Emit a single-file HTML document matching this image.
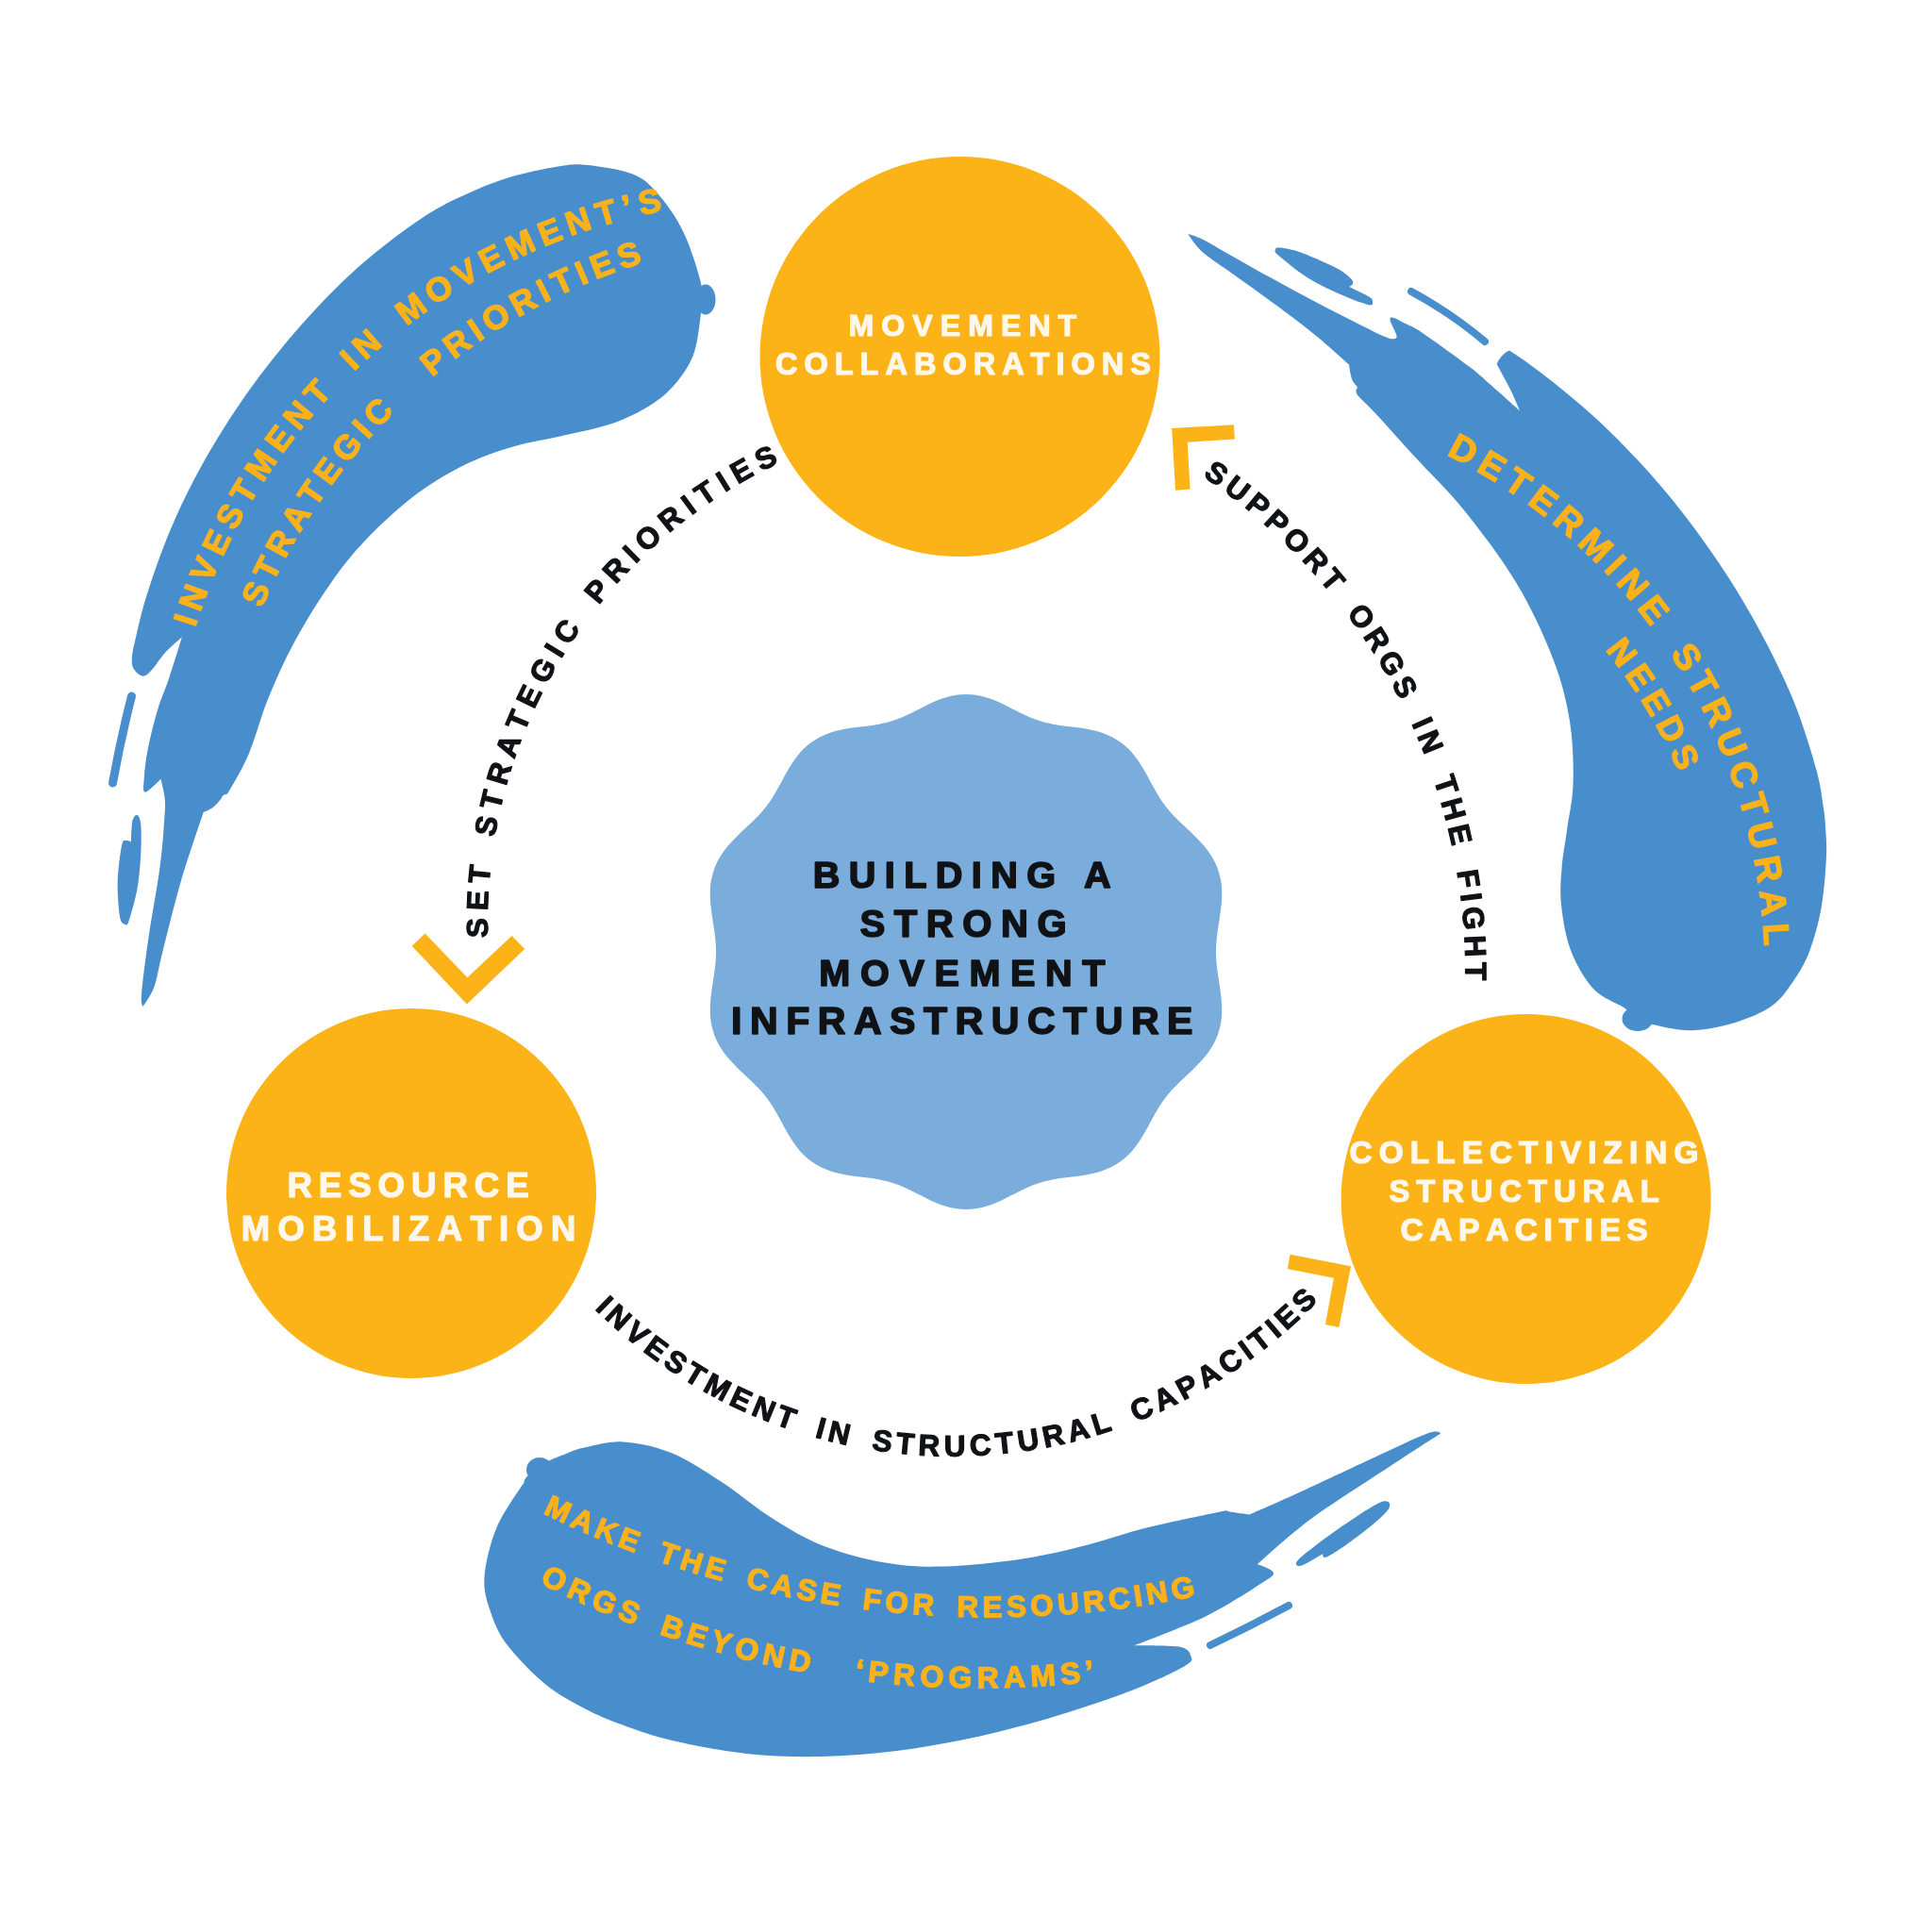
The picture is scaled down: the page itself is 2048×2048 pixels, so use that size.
<!DOCTYPE html>
<html><head><meta charset="utf-8"><style>
html,body{margin:0;padding:0;background:#fff;width:2048px;height:2048px;overflow:hidden}
svg{display:block;will-change:transform}
text{font-family:"Liberation Sans",sans-serif;font-weight:bold}
</style></head><body>
<svg xmlns="http://www.w3.org/2000/svg" width="2048" height="2048" viewBox="0 0 2048 2048">
<rect width="2048" height="2048" fill="#ffffff"/>
<path fill="#488ecc" d="M623.0,175.0 C636.3,176.4 658.8,179.8 671.2,184.8 C683.6,189.9 688.4,195.2 697.2,205.3 C706.1,215.3 716.6,229.7 724.1,245.2 C731.7,260.7 739.5,286.3 742.6,298.4 C745.7,310.5 743.0,311.8 743.0,318.0 C743.0,324.2 744.0,325.6 742.6,335.5 C741.2,345.4 739.5,364.8 734.6,377.2 C729.6,389.6 721.5,400.7 713.1,409.9 C704.8,419.1 695.9,425.7 684.5,432.4 C673.1,439.2 660.2,445.2 644.7,450.3 C629.2,455.3 608.0,459.2 591.6,462.9 C575.2,466.7 562.2,468.1 546.5,472.7 C530.8,477.3 514.2,482.5 497.3,490.6 C480.3,498.7 462.3,508.6 444.6,521.6 C427.0,534.5 407.0,552.5 391.5,568.3 C376.0,584.2 364.9,598.0 351.8,616.5 C338.7,635.0 324.0,658.7 312.8,679.3 C301.6,699.9 292.7,720.0 284.4,740.1 C276.2,760.2 270.6,783.1 263.4,800.0 C256.2,816.9 241.0,841.7 241.0,841.7 C241.0,841.7 238.0,842.0 236.6,843.2 C235.2,844.4 234.4,846.9 232.5,849.1 C230.6,851.3 228.1,854.3 225.3,856.3 C222.5,858.3 215.7,861.1 215.7,861.1 C215.7,861.1 199.0,909.6 191.8,934.2 C184.6,958.8 177.1,990.1 172.4,1008.7 C167.7,1027.3 167.0,1036.3 163.5,1046.0 C160.0,1055.7 151.6,1066.9 151.6,1066.9 C151.6,1066.9 149.0,1065.7 150.0,1053.5 C151.0,1041.3 154.2,1016.2 157.5,993.8 C160.7,971.4 166.7,940.6 169.5,919.3 C172.4,897.9 173.6,878.0 174.4,865.6 C175.3,853.3 175.2,851.5 174.5,844.9 C173.8,838.3 170.4,825.8 170.4,825.8 C170.4,825.8 156.7,840.1 153.8,839.8 C150.9,839.5 152.3,832.0 152.8,824.2 C153.3,816.4 154.5,805.3 156.9,793.2 C159.3,781.1 163.5,764.3 167.3,751.8 C171.1,739.3 175.2,730.7 179.5,718.0 C183.8,705.3 192.8,675.6 192.8,675.6 C192.8,675.6 180.3,686.3 175.0,692.0 C169.7,697.7 164.9,705.9 161.0,710.0 C157.1,714.1 154.8,716.7 151.7,716.7 C148.6,716.7 144.4,712.9 142.4,710.0 C140.4,707.1 139.7,704.5 139.8,699.5 C139.9,694.5 140.3,691.5 143.0,680.0 C145.7,668.5 149.4,650.3 155.7,630.5 C162.0,610.6 171.0,584.3 180.9,561.0 C190.8,537.7 201.5,515.2 215.3,490.8 C229.1,466.3 246.3,438.8 263.7,414.3 C281.2,389.9 300.4,366.0 319.7,344.1 C339.0,322.3 359.4,301.4 379.6,283.3 C399.8,265.2 423.2,247.9 440.9,235.6 C458.6,223.3 469.8,217.4 486.1,209.6 C502.3,201.8 520.8,194.1 538.3,188.6 C555.9,183.1 577.4,178.8 591.5,176.5 C605.6,174.2 609.7,173.6 623.0,175.0Z"/>
<path fill="#488ecc" d="M145.6,864.1 C147.1,864.9 148.7,867.8 149.3,874.5 C149.9,881.2 149.9,893.2 149.3,904.4 C148.7,915.6 147.7,929.7 145.6,941.6 C143.5,953.5 138.9,969.5 136.7,975.9 C134.5,982.2 133.8,980.4 132.2,979.7 C130.6,979.0 128.2,979.1 127.0,971.5 C125.8,963.9 124.3,946.9 124.7,934.2 C125.1,921.5 127.6,902.6 129.2,895.4 C130.8,888.2 132.8,891.5 134.4,891.0 C136.0,890.5 138.9,892.4 138.9,892.4 C138.9,892.4 139.3,874.7 140.4,870.0 C141.5,865.3 144.1,863.4 145.6,864.1Z"/>
<ellipse cx="748" cy="317.5" rx="10.5" ry="16" fill="#488ecc"/>
<ellipse cx="572" cy="1558" rx="14" ry="13" fill="#488ecc"/>
<ellipse cx="1736" cy="1080" rx="16.5" ry="13" fill="#488ecc"/>
<path fill="none" stroke="#488ecc" stroke-width="9" stroke-linecap="round" d="M139.5,738 Q128,783 119.5,830"/>
<path fill="#488ecc" d="M1259.3,248.1 C1259.3,248.1 1268.0,250.4 1274.8,253.7 C1281.6,257.0 1291.7,263.3 1300.0,268.1 C1308.3,272.8 1316.4,277.3 1324.6,281.9 C1332.8,286.5 1341.0,291.1 1349.2,295.6 C1357.4,300.1 1365.5,304.5 1373.8,309.0 C1382.2,313.4 1390.8,318.1 1399.2,322.5 C1407.6,326.9 1415.8,331.1 1424.1,335.3 C1432.4,339.6 1441.7,344.2 1448.9,347.8 C1456.2,351.4 1462.7,354.9 1467.4,356.8 C1472.1,358.7 1475.1,359.5 1477.3,359.3 C1479.5,359.1 1481.0,358.8 1480.4,355.5 C1479.8,352.2 1474.1,342.5 1473.6,339.4 C1473.1,336.3 1474.6,336.3 1477.3,336.9 C1480.0,337.5 1484.8,340.4 1490.0,343.1 C1495.2,345.8 1497.0,345.6 1508.3,353.2 C1519.6,360.8 1546.0,379.9 1558.0,389.0 C1570.0,398.1 1571.2,400.1 1580.0,407.8 C1588.8,415.5 1611.0,435.4 1611.0,435.4 C1611.0,435.4 1605.1,421.2 1601.5,413.8 C1597.9,406.4 1591.8,395.9 1589.4,391.0 C1587.1,386.1 1586.1,387.2 1587.4,384.2 C1588.8,381.2 1594.2,374.1 1597.5,372.8 C1600.8,371.5 1598.7,370.7 1606.9,376.1 C1615.1,381.5 1633.3,394.8 1646.6,405.3 C1659.9,415.8 1674.3,428.0 1686.7,439.1 C1699.0,450.2 1708.9,459.6 1720.7,471.7 C1732.5,483.8 1745.2,497.3 1757.6,511.8 C1770.0,526.3 1783.1,542.3 1795.2,558.7 C1807.4,575.0 1820.5,594.1 1830.7,609.8 C1840.9,625.4 1848.1,637.8 1856.6,652.6 C1865.0,667.5 1873.1,682.6 1881.2,699.1 C1889.2,715.6 1897.3,732.1 1904.7,751.7 C1912.2,771.3 1920.9,799.3 1925.6,816.8 C1930.3,834.3 1931.4,846.0 1933.0,856.6 C1934.6,867.1 1934.8,871.4 1935.3,880.2 C1935.8,889.0 1936.7,895.8 1935.9,909.5 C1935.2,923.2 1933.6,945.9 1930.6,962.4 C1927.6,979.0 1922.8,996.0 1918.0,1008.7 C1913.2,1021.4 1908.6,1028.9 1902.0,1038.5 C1895.4,1048.1 1888.9,1058.7 1878.3,1066.3 C1867.7,1073.9 1852.8,1079.9 1838.5,1084.2 C1824.2,1088.5 1807.0,1091.9 1792.8,1092.2 C1778.5,1092.5 1762.5,1088.2 1753.0,1086.2 C1743.5,1084.2 1741.3,1083.0 1736.0,1080.0 C1730.7,1077.0 1729.0,1073.2 1721.2,1068.0 C1713.4,1062.8 1698.7,1058.5 1689.4,1048.5 C1680.1,1038.5 1671.1,1023.1 1665.4,1008.2 C1659.6,993.3 1656.6,974.1 1655.0,959.3 C1653.4,944.5 1654.6,932.8 1655.6,919.5 C1656.6,906.2 1659.1,894.4 1661.1,879.5 C1663.1,864.6 1667.1,849.3 1667.6,830.1 C1668.1,810.9 1667.5,786.5 1664.0,764.5 C1660.4,742.6 1655.8,722.9 1646.3,698.4 C1636.9,673.9 1623.2,644.1 1607.3,617.7 C1591.5,591.3 1568.8,561.9 1551.0,539.8 C1533.3,517.8 1516.4,502.4 1501.0,485.5 C1485.6,468.6 1468.8,449.6 1458.6,438.7 C1448.4,427.8 1443.5,424.1 1440.0,420.0 C1436.5,415.9 1437.8,415.5 1437.6,413.9 C1437.4,412.3 1439.4,411.8 1438.8,410.2 C1438.2,408.6 1435.1,406.5 1433.9,404.0 C1432.7,401.5 1432.0,398.2 1431.4,395.3 C1430.8,392.4 1430.1,386.6 1430.1,386.6 C1430.1,386.6 1408.4,367.2 1399.1,359.3 C1389.8,351.4 1384.5,347.3 1374.2,339.4 C1363.8,331.5 1348.4,320.2 1337.0,312.0 C1325.7,303.7 1316.2,297.2 1305.9,289.7 C1295.5,282.3 1282.6,274.2 1274.8,267.3 C1267.0,260.4 1259.3,248.1 1259.3,248.1Z"/>
<path fill="#488ecc" d="M1351.9,264.8 C1352.0,263.4 1352.3,262.3 1356.0,262.5 C1359.7,262.7 1367.0,263.9 1374.2,266.1 C1381.4,268.4 1391.5,272.7 1399.1,276.0 C1406.7,279.3 1414.4,282.7 1420.0,286.0 C1425.6,289.3 1430.3,293.4 1432.6,295.9 C1434.9,298.4 1434.3,299.5 1433.9,300.9 C1433.5,302.2 1430.1,304.0 1430.1,304.0 C1430.1,304.0 1447.0,311.9 1451.2,314.5 C1455.4,317.1 1455.0,318.1 1455.0,319.5 C1455.0,320.9 1456.4,324.2 1451.2,323.2 C1446.0,322.2 1434.7,318.1 1423.9,313.3 C1413.1,308.6 1398.0,301.7 1386.6,294.7 C1375.2,287.7 1361.4,276.1 1355.6,271.1 C1349.8,266.1 1351.8,266.2 1351.9,264.8Z"/>
<path fill="none" stroke="#488ecc" stroke-width="8" stroke-linecap="round" d="M1496,309 Q1537,331 1574,362"/>
<path fill="#488ecc" d="M558.0,1566.0 C561.2,1562.7 568.0,1556.2 575.0,1552.0 C582.0,1547.8 592.6,1543.9 600.0,1541.0 C607.4,1538.1 609.2,1536.6 619.3,1534.5 C629.4,1532.4 645.1,1527.5 660.5,1528.4 C675.8,1529.3 694.2,1533.0 711.4,1540.0 C728.5,1546.9 745.5,1558.3 763.5,1570.0 C781.6,1581.7 801.5,1598.7 819.5,1610.1 C837.5,1621.5 852.1,1630.5 871.6,1638.2 C891.2,1645.9 915.5,1652.6 936.8,1656.3 C958.0,1660.0 974.6,1661.2 999.0,1660.6 C1023.5,1660.0 1057.7,1656.4 1083.5,1652.5 C1109.2,1648.6 1131.2,1642.9 1153.4,1637.4 C1175.5,1631.8 1192.0,1625.3 1216.4,1619.3 C1240.8,1613.3 1299.7,1601.3 1299.7,1601.3 C1299.7,1601.3 1301.1,1602.0 1305.2,1602.7 C1309.3,1603.4 1324.6,1605.4 1324.6,1605.4 C1324.6,1605.4 1352.4,1593.4 1374.6,1583.2 C1396.8,1573.0 1434.7,1555.0 1457.8,1544.4 C1480.9,1533.8 1501.7,1523.6 1513.3,1519.4 C1524.9,1515.2 1527.2,1519.4 1527.2,1519.4 C1527.2,1519.4 1494.8,1540.2 1471.7,1555.5 C1448.6,1570.8 1411.6,1593.9 1388.5,1611.0 C1365.4,1628.1 1333.0,1658.2 1333.0,1658.2 C1333.0,1658.2 1348.7,1663.3 1349.6,1666.5 C1350.5,1669.7 1350.5,1669.7 1338.5,1677.6 C1326.5,1685.5 1300.2,1702.6 1277.5,1713.7 C1254.8,1724.8 1202.5,1744.2 1202.5,1744.2 C1202.5,1744.2 1239.8,1743.8 1249.7,1745.6 C1259.7,1747.4 1261.3,1751.8 1262.2,1755.3 C1263.1,1758.8 1266.6,1759.9 1255.3,1766.4 C1244.0,1772.9 1218.2,1784.9 1194.2,1794.1 C1170.2,1803.3 1139.3,1813.3 1111.6,1821.4 C1083.8,1829.5 1054.5,1837.1 1027.7,1842.8 C1000.8,1848.6 976.6,1852.8 950.4,1856.0 C924.2,1859.2 897.1,1861.5 870.7,1862.0 C844.2,1862.5 817.8,1861.7 791.5,1858.9 C765.1,1856.0 734.5,1850.0 712.5,1844.9 C690.4,1839.8 674.8,1833.9 659.3,1828.2 C643.8,1822.6 632.9,1818.0 619.4,1810.9 C606.0,1803.8 592.0,1796.8 578.6,1785.8 C565.1,1774.8 548.3,1757.5 538.7,1745.1 C529.1,1732.8 525.3,1723.7 521.1,1711.7 C516.9,1699.7 512.6,1688.5 513.4,1673.1 C514.3,1657.7 519.5,1636.2 526.5,1619.3 C533.5,1602.4 555.7,1571.6 555.7,1571.6 C555.7,1571.6 554.8,1569.3 558.0,1566.0Z"/>
<path fill="#488ecc" d="M1466.1,1591.6 C1472.6,1589.8 1475.4,1594.4 1471.7,1599.9 C1468.0,1605.5 1454.6,1616.6 1444.0,1624.9 C1433.4,1633.2 1414.9,1646.1 1407.9,1649.8 C1401.0,1653.5 1402.3,1647.1 1402.3,1647.1 C1402.3,1647.1 1384.7,1658.1 1380.1,1659.5 C1375.5,1660.9 1372.3,1658.9 1374.6,1655.4 C1376.9,1651.9 1384.3,1646.1 1394.0,1638.7 C1403.7,1631.3 1420.9,1618.8 1432.9,1611.0 C1444.9,1603.2 1459.6,1593.4 1466.1,1591.6Z"/>
<path fill="none" stroke="#488ecc" stroke-width="8" stroke-linecap="round" d="M1366,1702 Q1325,1724 1283,1744"/>
<path fill="#7aaddb" d="M1024.0,736.0 L1028.3,736.2 L1032.6,736.6 L1036.8,737.2 L1041.0,738.1 L1045.2,739.3 L1049.4,740.6 L1053.5,742.1 L1057.5,743.8 L1061.5,745.6 L1065.4,747.5 L1069.3,749.4 L1073.1,751.4 L1077.0,753.3 L1080.7,755.2 L1084.5,757.0 L1088.2,758.8 L1092.0,760.4 L1095.8,761.9 L1099.6,763.3 L1103.4,764.6 L1107.3,765.7 L1111.3,766.6 L1115.3,767.5 L1119.3,768.2 L1123.5,768.9 L1127.7,769.4 L1131.9,770.0 L1136.2,770.5 L1140.6,771.0 L1144.9,771.6 L1149.3,772.3 L1153.7,773.1 L1158.1,774.0 L1162.4,775.0 L1166.6,776.3 L1170.8,777.7 L1174.8,779.4 L1178.8,781.3 L1182.6,783.4 L1186.2,785.7 L1189.8,788.2 L1193.1,791.0 L1196.3,794.0 L1199.3,797.1 L1202.1,800.5 L1204.8,803.9 L1207.3,807.5 L1209.7,811.2 L1212.0,815.0 L1214.2,818.8 L1216.3,822.6 L1218.4,826.4 L1220.4,830.2 L1222.5,834.0 L1224.6,837.7 L1226.7,841.3 L1228.8,844.9 L1231.1,848.4 L1233.5,851.7 L1235.9,855.0 L1238.5,858.2 L1241.2,861.4 L1244.0,864.5 L1247.0,867.5 L1250.0,870.5 L1253.1,873.5 L1256.3,876.5 L1259.5,879.5 L1262.8,882.6 L1266.0,885.7 L1269.2,888.9 L1272.3,892.2 L1275.3,895.5 L1278.2,899.0 L1280.9,902.6 L1283.4,906.3 L1285.7,910.1 L1287.8,914.0 L1289.7,918.0 L1291.2,922.2 L1292.5,926.4 L1293.6,930.7 L1294.4,935.0 L1294.9,939.4 L1295.2,943.9 L1295.2,948.4 L1295.1,952.9 L1294.8,957.3 L1294.4,961.8 L1293.8,966.3 L1293.2,970.7 L1292.6,975.1 L1291.9,979.4 L1291.2,983.7 L1290.6,988.0 L1290.1,992.3 L1289.6,996.5 L1289.3,1000.7 L1289.1,1004.8 L1289.0,1009.0 L1289.1,1013.2 L1289.3,1017.3 L1289.6,1021.5 L1290.1,1025.7 L1290.6,1030.0 L1291.2,1034.3 L1291.9,1038.6 L1292.6,1042.9 L1293.2,1047.3 L1293.8,1051.7 L1294.4,1056.2 L1294.8,1060.7 L1295.1,1065.1 L1295.2,1069.6 L1295.2,1074.1 L1294.9,1078.6 L1294.4,1083.0 L1293.6,1087.3 L1292.5,1091.6 L1291.2,1095.8 L1289.7,1100.0 L1287.8,1104.0 L1285.7,1107.9 L1283.4,1111.7 L1280.9,1115.4 L1278.2,1119.0 L1275.3,1122.5 L1272.3,1125.8 L1269.2,1129.1 L1266.0,1132.3 L1262.8,1135.4 L1259.5,1138.5 L1256.3,1141.5 L1253.1,1144.5 L1250.0,1147.5 L1247.0,1150.5 L1244.0,1153.5 L1241.2,1156.6 L1238.5,1159.8 L1235.9,1163.0 L1233.5,1166.3 L1231.1,1169.6 L1228.8,1173.1 L1226.7,1176.7 L1224.6,1180.3 L1222.5,1184.0 L1220.4,1187.8 L1218.4,1191.6 L1216.3,1195.4 L1214.2,1199.2 L1212.0,1203.0 L1209.7,1206.8 L1207.3,1210.5 L1204.8,1214.1 L1202.1,1217.5 L1199.3,1220.9 L1196.3,1224.0 L1193.1,1227.0 L1189.8,1229.8 L1186.2,1232.3 L1182.6,1234.6 L1178.8,1236.7 L1174.8,1238.6 L1170.8,1240.3 L1166.6,1241.7 L1162.4,1243.0 L1158.1,1244.0 L1153.7,1244.9 L1149.3,1245.7 L1144.9,1246.4 L1140.6,1247.0 L1136.2,1247.5 L1131.9,1248.0 L1127.7,1248.6 L1123.5,1249.1 L1119.3,1249.8 L1115.3,1250.5 L1111.3,1251.4 L1107.3,1252.3 L1103.4,1253.4 L1099.6,1254.7 L1095.8,1256.1 L1092.0,1257.6 L1088.2,1259.2 L1084.5,1261.0 L1080.7,1262.8 L1077.0,1264.7 L1073.1,1266.6 L1069.3,1268.6 L1065.4,1270.5 L1061.5,1272.4 L1057.5,1274.2 L1053.5,1275.9 L1049.4,1277.4 L1045.2,1278.7 L1041.0,1279.9 L1036.8,1280.8 L1032.6,1281.4 L1028.3,1281.8 L1024.0,1282.0 L1019.7,1281.8 L1015.4,1281.4 L1011.2,1280.8 L1007.0,1279.9 L1002.8,1278.7 L998.6,1277.4 L994.5,1275.9 L990.5,1274.2 L986.5,1272.4 L982.6,1270.5 L978.7,1268.6 L974.9,1266.6 L971.0,1264.7 L967.3,1262.8 L963.5,1261.0 L959.8,1259.2 L956.0,1257.6 L952.2,1256.1 L948.4,1254.7 L944.6,1253.4 L940.7,1252.3 L936.7,1251.4 L932.7,1250.5 L928.7,1249.8 L924.5,1249.1 L920.3,1248.6 L916.1,1248.0 L911.8,1247.5 L907.4,1247.0 L903.1,1246.4 L898.7,1245.7 L894.3,1244.9 L889.9,1244.0 L885.6,1243.0 L881.4,1241.7 L877.2,1240.3 L873.2,1238.6 L869.2,1236.7 L865.4,1234.6 L861.8,1232.3 L858.2,1229.8 L854.9,1227.0 L851.7,1224.0 L848.7,1220.9 L845.9,1217.5 L843.2,1214.1 L840.7,1210.5 L838.3,1206.8 L836.0,1203.0 L833.8,1199.2 L831.7,1195.4 L829.6,1191.6 L827.6,1187.8 L825.5,1184.0 L823.4,1180.3 L821.3,1176.7 L819.2,1173.1 L816.9,1169.6 L814.5,1166.3 L812.1,1163.0 L809.5,1159.8 L806.8,1156.6 L804.0,1153.5 L801.0,1150.5 L798.0,1147.5 L794.9,1144.5 L791.7,1141.5 L788.5,1138.5 L785.2,1135.4 L782.0,1132.3 L778.8,1129.1 L775.7,1125.8 L772.7,1122.5 L769.8,1119.0 L767.1,1115.4 L764.6,1111.7 L762.3,1107.9 L760.2,1104.0 L758.3,1100.0 L756.8,1095.8 L755.5,1091.6 L754.4,1087.3 L753.6,1083.0 L753.1,1078.6 L752.8,1074.1 L752.8,1069.6 L752.9,1065.1 L753.2,1060.7 L753.6,1056.2 L754.2,1051.7 L754.8,1047.3 L755.4,1042.9 L756.1,1038.6 L756.8,1034.3 L757.4,1030.0 L757.9,1025.7 L758.4,1021.5 L758.7,1017.3 L758.9,1013.2 L759.0,1009.0 L758.9,1004.8 L758.7,1000.7 L758.4,996.5 L757.9,992.3 L757.4,988.0 L756.8,983.7 L756.1,979.4 L755.4,975.1 L754.8,970.7 L754.2,966.3 L753.6,961.8 L753.2,957.3 L752.9,952.9 L752.8,948.4 L752.8,943.9 L753.1,939.4 L753.6,935.0 L754.4,930.7 L755.5,926.4 L756.8,922.2 L758.3,918.0 L760.2,914.0 L762.3,910.1 L764.6,906.3 L767.1,902.6 L769.8,899.0 L772.7,895.5 L775.7,892.2 L778.8,888.9 L782.0,885.7 L785.2,882.6 L788.5,879.5 L791.7,876.5 L794.9,873.5 L798.0,870.5 L801.0,867.5 L804.0,864.5 L806.8,861.4 L809.5,858.2 L812.1,855.0 L814.5,851.7 L816.9,848.4 L819.2,844.9 L821.3,841.3 L823.4,837.7 L825.5,834.0 L827.6,830.2 L829.6,826.4 L831.7,822.6 L833.8,818.8 L836.0,815.0 L838.3,811.2 L840.7,807.5 L843.2,803.9 L845.9,800.5 L848.7,797.1 L851.7,794.0 L854.9,791.0 L858.2,788.2 L861.8,785.7 L865.4,783.4 L869.2,781.3 L873.2,779.4 L877.2,777.7 L881.4,776.3 L885.6,775.0 L889.9,774.0 L894.3,773.1 L898.7,772.3 L903.1,771.6 L907.4,771.0 L911.8,770.5 L916.1,770.0 L920.3,769.4 L924.5,768.9 L928.7,768.2 L932.7,767.5 L936.7,766.6 L940.7,765.7 L944.6,764.6 L948.4,763.3 L952.2,761.9 L956.0,760.4 L959.8,758.8 L963.5,757.0 L967.3,755.2 L971.0,753.3 L974.9,751.4 L978.7,749.4 L982.6,747.5 L986.5,745.6 L990.5,743.8 L994.5,742.1 L998.6,740.6 L1002.8,739.3 L1007.0,738.1 L1011.2,737.2 L1015.4,736.6 L1019.7,736.2Z"/>
<circle cx="1017.5" cy="378" r="212" fill="#fcb318"/>
<circle cx="436" cy="1265" r="196" fill="#fcb318"/>
<circle cx="1617.6" cy="1271" r="196" fill="#fcb318"/>
<polygon fill="#fcb318" points="436.6,1002.7 450.6,989.5 495.4,1036.3 542.6,991.9 556.2,1006.0 494.9,1064.4"/>
<polygon fill="#fcb318" points="1242.2,454.1 1307.9,450.2 1308.9,465.5 1258.7,468.8 1261.6,518.5 1246.0,519.8"/>
<polygon fill="#fcb318" points="1367.6,1329.8 1432.0,1342.3 1419.4,1407.0 1404.9,1404.1 1413.9,1354.7 1364.8,1345.1"/>
<g fill="#fdf7ec" stroke="#fdf7ec" stroke-width="1.20" stroke-linejoin="round"><text x="899.5 934.2 967.3 996.7 1026.2 1060.9 1090.4 1121.6" y="356.0" font-size="32.12">MOVEMENT</text><text x="822.0 852.4 884.7 911.6 938.4 968.9 999.4 1031.7 1062.2 1092.6 1119.5 1135.5 1167.8 1198.3" y="397.3" font-size="32.56">COLLABORATIONS</text></g>
<g fill="#fdf7ec" stroke="#fdf7ec" stroke-width="1.20" stroke-linejoin="round"><text x="304.4 337.8 369.2 400.6 436.0 469.4 502.8 536.2" y="1268.7" font-size="36.77">RESOURCE</text><text x="255.8 294.4 331.1 365.7 384.2 414.7 433.1 463.7 498.4 528.9 547.3 584.0" y="1314.6" font-size="36.48">MOBILIZATION</text></g>
<g fill="#fdf7ec" stroke="#fdf7ec" stroke-width="1.20" stroke-linejoin="round"><text x="1430.6 1461.8 1494.8 1522.2 1549.7 1579.0 1610.1 1637.6 1653.9 1683.2 1699.5 1726.9 1743.2 1774.4" y="1233.3" font-size="33.43">COLLECTIVIZING</text><text x="1472.5 1501.3 1528.2 1558.8 1589.4 1620.0 1647.0 1677.6 1708.2 1738.8" y="1274.3" font-size="32.85">STRUCTURAL</text><text x="1484.4 1515.2 1546.1 1575.0 1605.8 1636.6 1652.5 1679.5 1695.4 1724.3" y="1315.3" font-size="33.72">CAPACITIES</text></g>
<g fill="#101215" stroke="#101215" stroke-width="1.60" stroke-linejoin="round"><text x="861.7 899.8 937.8 958.2 991.8 1029.8 1050.2 1088.3 1128.5 1148.9" y="941.3" font-size="39.68">BUILDING A</text><text x="911.5 947.8 981.8 1020.3 1061.0 1099.5" y="992.9" font-size="40.12">STRONG</text><text x="868.3 912.0 953.4 990.4 1027.4 1071.0 1108.1 1147.3" y="1044.8" font-size="39.68">MOVEMENT</text><text x="775.1 795.0 833.2 866.8 905.0 943.1 979.0 1012.6 1050.8 1089.0 1127.1 1160.7 1198.9 1237.1" y="1096.4" font-size="41.13">INFRASTRUCTURE</text></g>
<g fill="#101215" stroke="#101215" stroke-width="1.20" stroke-linejoin="round" font-size="31.54" text-anchor="middle"><text transform="translate(516.8,983.6) rotate(269.38)">S</text><text transform="translate(517.2,955.1) rotate(272.40)">E</text><text transform="translate(519.1,927.6) rotate(275.34)">T</text><text transform="translate(526.2,877.3) rotate(280.75)">S</text><text transform="translate(532.0,850.3) rotate(283.69)">T</text><text transform="translate(539.5,822.9) rotate(286.71)">R</text><text transform="translate(548.9,794.3) rotate(289.92)">A</text><text transform="translate(559.3,767.8) rotate(292.94)">T</text><text transform="translate(570.7,742.7) rotate(295.88)">E</text><text transform="translate(584.6,715.9) rotate(299.09)">G</text><text transform="translate(596.8,695.1) rotate(301.66)">I</text><text transform="translate(609.5,675.6) rotate(304.13)">C</text><text transform="translate(641.1,633.5) rotate(309.73)">P</text><text transform="translate(660.4,611.5) rotate(312.85)">R</text><text transform="translate(676.6,594.8) rotate(315.32)">I</text><text transform="translate(694.1,578.2) rotate(317.89)">O</text><text transform="translate(717.7,558.1) rotate(321.19)">R</text><text transform="translate(736.2,543.9) rotate(323.67)">I</text><text transform="translate(753.8,531.5) rotate(325.97)">T</text><text transform="translate(771.9,519.8) rotate(328.26)">I</text><text transform="translate(791.2,508.4) rotate(330.65)">E</text><text transform="translate(816.4,495.1) rotate(333.67)">S</text></g>
<g fill="#101215" stroke="#101215" stroke-width="1.20" stroke-linejoin="round" font-size="31.54" text-anchor="middle"><text transform="translate(1283.4,510.6) rotate(35.08)">S</text><text transform="translate(1305.4,526.7) rotate(37.55)">U</text><text transform="translate(1326.7,543.8) rotate(40.01)">P</text><text transform="translate(1346.6,561.3) rotate(42.40)">P</text><text transform="translate(1367.0,580.7) rotate(44.94)">O</text><text transform="translate(1387.1,601.7) rotate(47.56)">R</text><text transform="translate(1404.5,621.6) rotate(49.95)">T</text><text transform="translate(1434.3,659.9) rotate(54.33)">O</text><text transform="translate(1450.7,683.9) rotate(56.95)">R</text><text transform="translate(1466.0,708.6) rotate(59.57)">G</text><text transform="translate(1479.7,733.2) rotate(62.11)">S</text><text transform="translate(1498.0,770.7) rotate(65.88)">I</text><text transform="translate(1506.4,790.3) rotate(67.80)">N</text><text transform="translate(1522.7,835.1) rotate(72.10)">T</text><text transform="translate(1530.3,860.4) rotate(74.49)">H</text><text transform="translate(1537.1,886.9) rotate(76.95)">E</text><text transform="translate(1546.0,932.9) rotate(81.18)">F</text><text transform="translate(1548.7,952.3) rotate(82.95)">I</text><text transform="translate(1551.0,974.3) rotate(84.95)">G</text><text transform="translate(1552.9,1003.3) rotate(87.56)">H</text><text transform="translate(1553.5,1029.7) rotate(89.95)">T</text></g>
<g fill="#101215" stroke="#101215" stroke-width="1.20" stroke-linejoin="round" font-size="31.54" text-anchor="middle"><text transform="translate(633.4,1390.5) rotate(44.31)">I</text><text transform="translate(648.4,1404.5) rotate(42.12)">N</text><text transform="translate(668.7,1422.0) rotate(39.27)">V</text><text transform="translate(689.2,1437.9) rotate(36.51)">E</text><text transform="translate(710.4,1452.9) rotate(33.75)">S</text><text transform="translate(731.5,1466.3) rotate(31.09)">T</text><text transform="translate(755.6,1480.0) rotate(28.14)">M</text><text transform="translate(781.1,1492.8) rotate(25.10)">E</text><text transform="translate(805.7,1503.5) rotate(22.25)">N</text><text transform="translate(829.9,1512.8) rotate(19.49)">T</text><text transform="translate(867.4,1524.5) rotate(15.31)">I</text><text transform="translate(887.3,1529.5) rotate(13.12)">N</text><text transform="translate(933.8,1538.3) rotate(8.08)">S</text><text transform="translate(958.7,1541.2) rotate(5.42)">T</text><text transform="translate(984.5,1543.0) rotate(2.66)">R</text><text transform="translate(1012.2,1543.6) rotate(-0.29)">U</text><text transform="translate(1039.9,1542.7) rotate(-3.24)">C</text><text transform="translate(1065.7,1540.6) rotate(-6.00)">T</text><text transform="translate(1091.4,1537.3) rotate(-8.75)">U</text><text transform="translate(1118.7,1532.4) rotate(-11.70)">R</text><text transform="translate(1145.6,1526.1) rotate(-14.65)">A</text><text transform="translate(1170.5,1518.9) rotate(-17.41)">L</text><text transform="translate(1214.2,1503.2) rotate(-22.35)">C</text><text transform="translate(1239.5,1492.0) rotate(-25.30)">A</text><text transform="translate(1263.5,1479.9) rotate(-28.15)">P</text><text transform="translate(1286.8,1466.7) rotate(-31.01)">A</text><text transform="translate(1310.1,1451.8) rotate(-33.95)">C</text><text transform="translate(1327.0,1440.0) rotate(-36.14)">I</text><text transform="translate(1341.9,1428.7) rotate(-38.14)">T</text><text transform="translate(1356.5,1416.8) rotate(-40.13)">I</text><text transform="translate(1371.3,1403.9) rotate(-42.22)">E</text><text transform="translate(1390.0,1386.0) rotate(-44.98)">S</text></g>
<g fill="#fbb21a" stroke="#fbb21a" stroke-width="1.30" stroke-linejoin="round" font-size="35.61" text-anchor="middle"><text transform="translate(208.3,660.7) rotate(-71.99)">I</text><text transform="translate(216.4,637.4) rotate(-69.82)">N</text><text transform="translate(228.0,608.1) rotate(-67.04)">V</text><text transform="translate(240.6,580.2) rotate(-64.35)">E</text><text transform="translate(254.5,553.0) rotate(-61.65)">S</text><text transform="translate(269.1,527.3) rotate(-59.05)">T</text><text transform="translate(286.5,499.9) rotate(-56.19)">M</text><text transform="translate(305.8,472.5) rotate(-53.24)">E</text><text transform="translate(325.3,447.8) rotate(-50.46)">N</text><text transform="translate(345.3,424.7) rotate(-47.77)">T</text><text transform="translate(378.5,390.7) rotate(-43.59)">I</text><text transform="translate(396.7,374.0) rotate(-41.41)">N</text><text transform="translate(442.8,336.9) rotate(-36.20)">M</text><text transform="translate(471.9,316.8) rotate(-33.08)">O</text><text transform="translate(499.6,299.7) rotate(-30.22)">V</text><text transform="translate(526.3,285.0) rotate(-27.53)">E</text><text transform="translate(556.4,270.3) rotate(-24.58)">M</text><text transform="translate(587.2,257.2) rotate(-21.63)">E</text><text transform="translate(616.7,246.2) rotate(-18.86)">N</text><text transform="translate(645.9,237.1) rotate(-16.17)">T</text><text transform="translate(667.8,231.1) rotate(-14.16)">&#8217;</text><text transform="translate(691.0,225.7) rotate(-12.07)">S</text></g>
<g fill="#fbb21a" stroke="#fbb21a" stroke-width="1.30" stroke-linejoin="round" font-size="35.61" text-anchor="middle"><text transform="translate(282.2,634.1) rotate(-66.19)">S</text><text transform="translate(294.3,608.1) rotate(-63.64)">T</text><text transform="translate(308.1,581.8) rotate(-61.00)">R</text><text transform="translate(324.1,554.5) rotate(-58.19)">A</text><text transform="translate(340.4,529.7) rotate(-55.55)">T</text><text transform="translate(357.1,506.4) rotate(-52.99)">E</text><text transform="translate(376.8,481.6) rotate(-50.18)">G</text><text transform="translate(393.1,462.8) rotate(-47.97)">I</text><text transform="translate(409.4,445.4) rotate(-45.85)">C</text><text transform="translate(467.3,392.5) rotate(-38.88)">P</text><text transform="translate(491.6,373.9) rotate(-36.15)">R</text><text transform="translate(511.2,360.1) rotate(-34.03)">I</text><text transform="translate(532.0,346.6) rotate(-31.82)">O</text><text transform="translate(560.2,330.2) rotate(-28.92)">R</text><text transform="translate(581.3,319.0) rotate(-26.79)">I</text><text transform="translate(601.0,309.5) rotate(-24.85)">T</text><text transform="translate(621.0,300.6) rotate(-22.90)">I</text><text transform="translate(642.3,292.0) rotate(-20.86)">E</text><text transform="translate(670.3,282.1) rotate(-18.22)">S</text></g>
<g fill="#fbb21a" stroke="#fbb21a" stroke-width="1.30" stroke-linejoin="round" font-size="38.52" text-anchor="middle"><text transform="translate(1545.3,488.3) rotate(27.87)">D</text><text transform="translate(1575.1,505.1) rotate(31.07)">E</text><text transform="translate(1602.1,522.4) rotate(34.08)">T</text><text transform="translate(1628.2,541.1) rotate(37.09)">E</text><text transform="translate(1654.9,562.5) rotate(40.29)">R</text><text transform="translate(1682.6,587.5) rotate(43.79)">M</text><text transform="translate(1703.0,608.0) rotate(46.51)">I</text><text transform="translate(1721.1,627.9) rotate(49.03)">N</text><text transform="translate(1742.7,654.3) rotate(52.23)">E</text><text transform="translate(1777.1,703.4) rotate(57.86)">S</text><text transform="translate(1793.5,731.1) rotate(60.87)">T</text><text transform="translate(1808.8,760.4) rotate(63.97)">R</text><text transform="translate(1823.3,792.5) rotate(67.28)">U</text><text transform="translate(1836.0,825.4) rotate(70.58)">C</text><text transform="translate(1846.2,856.9) rotate(73.69)">T</text><text transform="translate(1854.6,888.9) rotate(76.79)">U</text><text transform="translate(1861.7,923.5) rotate(80.10)">R</text><text transform="translate(1866.7,958.3) rotate(83.40)">A</text><text transform="translate(1869.6,991.3) rotate(86.50)">L</text></g>
<g fill="#fbb21a" stroke="#fbb21a" stroke-width="1.30" stroke-linejoin="round" font-size="36.34" text-anchor="middle"><text transform="translate(1709.6,698.8) rotate(52.58)">N</text><text transform="translate(1728.3,724.7) rotate(55.83)">E</text><text transform="translate(1745.0,750.8) rotate(58.98)">E</text><text transform="translate(1760.7,778.7) rotate(62.23)">D</text><text transform="translate(1774.8,807.4) rotate(65.48)">S</text></g>
<g fill="#fbb21a" stroke="#fbb21a" stroke-width="1.30" stroke-linejoin="round" font-size="31.54" text-anchor="middle"><text transform="translate(587.0,1609.7) rotate(25.46)">M</text><text transform="translate(613.5,1621.8) rotate(23.91)">A</text><text transform="translate(638.7,1632.6) rotate(22.45)">K</text><text transform="translate(663.3,1642.4) rotate(21.04)">E</text><text transform="translate(705.7,1657.7) rotate(18.64)">T</text><text transform="translate(730.1,1665.6) rotate(17.27)">H</text><text transform="translate(755.5,1673.2) rotate(15.86)">E</text><text transform="translate(800.8,1685.0) rotate(13.36)">C</text><text transform="translate(827.5,1691.0) rotate(11.90)">A</text><text transform="translate(853.5,1696.1) rotate(10.49)">S</text><text transform="translate(878.8,1700.5) rotate(9.13)">E</text><text transform="translate(923.4,1706.7) rotate(6.73)">F</text><text transform="translate(949.8,1709.5) rotate(5.31)">O</text><text transform="translate(978.0,1711.7) rotate(3.81)">R</text><text transform="translate(1025.6,1713.9) rotate(1.26)">R</text><text transform="translate(1052.1,1714.1) rotate(-0.15)">E</text><text transform="translate(1077.7,1713.7) rotate(-1.51)">S</text><text transform="translate(1105.1,1712.7) rotate(-2.97)">O</text><text transform="translate(1133.3,1710.8) rotate(-4.48)">U</text><text transform="translate(1160.6,1708.3) rotate(-5.94)">R</text><text transform="translate(1187.8,1705.2) rotate(-7.40)">C</text><text transform="translate(1207.9,1702.4) rotate(-8.48)">I</text><text transform="translate(1228.0,1699.2) rotate(-9.56)">N</text><text transform="translate(1255.8,1694.1) rotate(-11.07)">G</text></g>
<g fill="#fbb21a" stroke="#fbb21a" stroke-width="1.30" stroke-linejoin="round" font-size="31.98" text-anchor="middle"><text transform="translate(583.0,1683.6) rotate(26.15)">O</text><text transform="translate(609.7,1696.2) rotate(24.52)">R</text><text transform="translate(636.7,1708.1) rotate(22.88)">G</text><text transform="translate(663.2,1718.8) rotate(21.29)">S</text><text transform="translate(709.5,1735.6) rotate(18.56)">B</text><text transform="translate(735.9,1744.1) rotate(17.03)">E</text><text transform="translate(761.7,1751.6) rotate(15.54)">Y</text><text transform="translate(789.4,1758.9) rotate(13.95)">O</text><text transform="translate(818.1,1765.6) rotate(12.31)">N</text><text transform="translate(846.2,1771.3) rotate(10.72)">D</text><text transform="translate(909.8,1781.3) rotate(7.15)">&#8216;</text><text transform="translate(930.2,1783.7) rotate(6.01)">P</text><text transform="translate(957.8,1786.2) rotate(4.48)">R</text><text transform="translate(987.3,1788.1) rotate(2.84)">O</text><text transform="translate(1017.7,1789.1) rotate(1.15)">G</text><text transform="translate(1047.2,1789.3) rotate(-0.49)">R</text><text transform="translate(1075.8,1788.7) rotate(-2.08)">A</text><text transform="translate(1106.2,1787.1) rotate(-3.76)">M</text><text transform="translate(1135.7,1784.8) rotate(-5.40)">S</text><text transform="translate(1156.1,1782.6) rotate(-6.54)">&#8217;</text></g>
</svg></body></html>
